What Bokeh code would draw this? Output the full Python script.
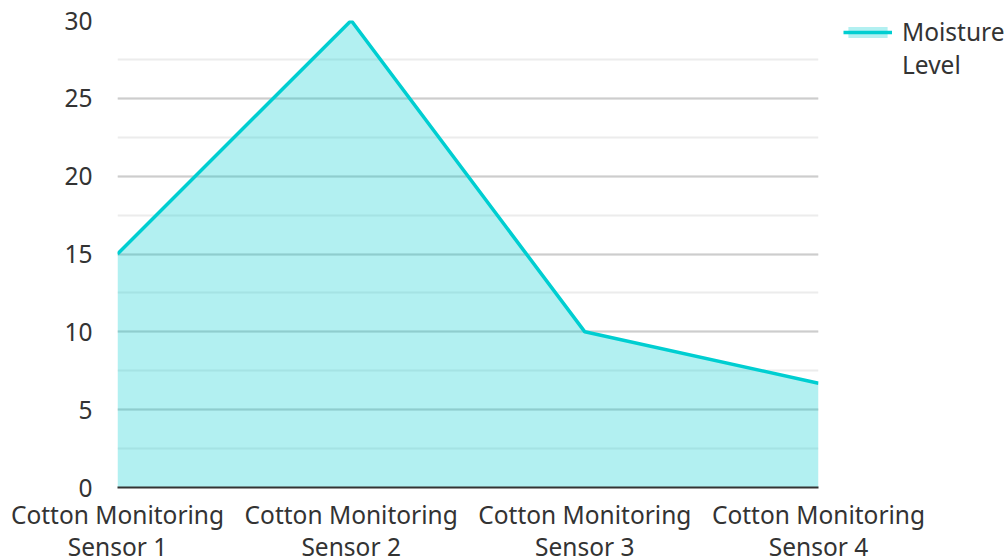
from bokeh.plotting import figure
from bokeh.models import Range1d, FixedTicker, SingleIntervalTicker, Legend, LegendItem, ColumnDataSource
from bokeh.embed import file_html
from bokeh.resources import INLINE

sensors = ["Cotton Monitoring Sensor 1", "Cotton Monitoring Sensor 2",
           "Cotton Monitoring Sensor 3", "Cotton Monitoring Sensor 4"]
moisture = [15, 30, 10, 6.7]
series_name = ["Moisture", "Level"]
y_ticks = [0, 5, 10, 15, 20, 25, 30]

x_pos = list(range(len(sensors)))
src = ColumnDataSource(dict(x=x_pos, y=moisture, y0=[0] * len(moisture)))

FONT = "Noto Sans"
TXT = "#333333"
TEAL = "#00CED1"

p = figure(frame_width=701, frame_height=467, output_backend="svg", toolbar_location=None,
           x_range=Range1d(0, len(sensors) - 1), y_range=Range1d(0, 30),
           min_border_left=117, min_border_top=20, min_border_bottom=73, min_border_right=190)
p.outline_line_color = None
p.background_fill_color = "white"

area = p.varea(x="x", y1="y0", y2="y", source=src, fill_color=TEAL, fill_alpha=0.3)
line = p.line(x="x", y="y", source=src, line_color=TEAL, line_width=3.5)
blank = p.line(x=[], y=[], line_alpha=0)

# x axis
p.xaxis.ticker = FixedTicker(ticks=x_pos)
p.xaxis.major_label_overrides = {i: s.replace(" Sensor", "\nSensor") for i, s in zip(x_pos, sensors)}
p.xaxis.axis_line_color = TXT
p.xaxis.axis_line_width = 2
p.xaxis.major_tick_line_color = None
p.xaxis.minor_tick_line_color = None
p.xaxis.major_label_text_font = FONT
p.xaxis.major_label_text_font_size = "24.5px"
p.xaxis.major_label_text_color = TXT
p.xaxis.major_label_text_line_height = 0.98
p.xaxis.major_label_standoff = 4
p.xgrid.grid_line_color = None

# y axis
p.yaxis.ticker = FixedTicker(ticks=y_ticks)
p.yaxis.axis_line_color = None
p.yaxis.major_tick_line_color = None
p.yaxis.minor_tick_line_color = None
p.yaxis.major_label_text_font = FONT
p.yaxis.major_label_text_font_size = "24.5px"
p.yaxis.major_label_text_color = TXT
p.yaxis.major_label_standoff = 19
p.ygrid.ticker = SingleIntervalTicker(interval=5, num_minor_ticks=2)
p.ygrid.grid_line_color = "#cdcdcd"
p.ygrid.grid_line_width = 2
p.ygrid.minor_grid_line_color = "#ececec"
p.ygrid.minor_grid_line_width = 2

legend = Legend(items=[LegendItem(label=series_name[0], renderers=[area, line]),
                       LegendItem(label=series_name[1], renderers=[blank])],
                location=(25, 406), glyph_width=49, glyph_height=14, label_standoff=10,
                label_text_font=FONT, label_text_font_size="24.5px", label_text_color=TXT,
                label_height=31, label_text_line_height=1.0,
                border_line_color=None, background_fill_alpha=0, margin=0, padding=0, spacing=0)
p.add_layout(legend, "right")

open("out.html", "w").write(file_html(p, INLINE))
